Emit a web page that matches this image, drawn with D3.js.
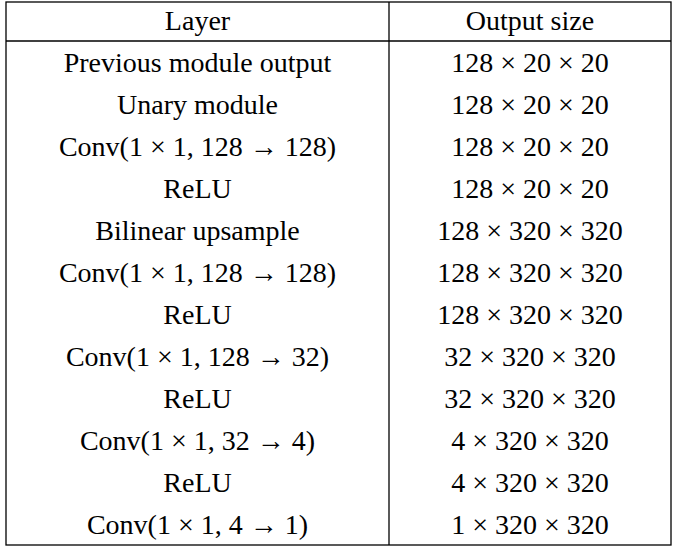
<!DOCTYPE html>
<html><head><meta charset="utf-8">
<script src="https://cdn.jsdelivr.net/npm/d3@7"></script>
<style>body{margin:0;background:#fff}</style>
</head><body><div id="app"></div>
<script>
const headers = ["Layer", "Output size"];
const layers = ["Previous module output", "Unary module", "Conv(1 × 1, 128 → 128)", "ReLU",
  "Bilinear upsample", "Conv(1 × 1, 128 → 128)", "ReLU", "Conv(1 × 1, 128 → 32)", "ReLU",
  "Conv(1 × 1, 32 → 4)", "ReLU", "Conv(1 × 1, 4 → 1)"];
const sizes = ["128 × 20 × 20", "128 × 20 × 20", "128 × 20 × 20", "128 × 20 × 20",
  "128 × 320 × 320", "128 × 320 × 320", "128 × 320 × 320", "32 × 320 × 320", "32 × 320 × 320",
  "4 × 320 × 320", "4 × 320 × 320", "1 × 320 × 320"];

const width = 676, height = 548;
const boxLeft = 6, boxRight = 671, boxTop = 2, boxBottom = 545, divider = 389, headLine = 41;

const svg = d3.select("#app").append("svg").attr("width", width).attr("height", height);

const y = d3.scaleBand().domain(d3.range(layers.length)).range([headLine, boxBottom]);

// BORDERS
const g = svg.append("g").attr("stroke", "#000").attr("stroke-width", 1.3);
g.append("rect").attr("x", boxLeft).attr("y", boxTop).attr("width", boxRight - boxLeft).attr("height", boxBottom - boxTop).attr("fill", "none");
g.append("line").attr("x1", divider).attr("x2", divider).attr("y1", boxTop).attr("y2", boxBottom);
g.append("line").attr("x1", boxLeft).attr("x2", boxRight).attr("y1", headLine).attr("y2", headLine);

const cx = [(boxLeft + divider) / 2, (divider + boxRight) / 2];
const txt = svg.append("g").attr("font-family", "Liberation Serif, serif").attr("font-size", 28)
  .attr("text-anchor", "middle").attr("fill", "#000");

txt.selectAll(".h").data(headers).join("text")
  .attr("class", "h").attr("x", (d, i) => cx[i]).attr("y", 30).text(d => d);

txt.selectAll(".l").data(layers).join("text")
  .attr("class", "l").attr("x", cx[0]).attr("y", (d, i) => y(i) + y.bandwidth() / 2 + 10).text(d => d);

txt.selectAll(".s").data(sizes).join("text")
  .attr("class", "s").attr("x", cx[1]).attr("y", (d, i) => y(i) + y.bandwidth() / 2 + 10).text(d => d);
</script></body></html>
